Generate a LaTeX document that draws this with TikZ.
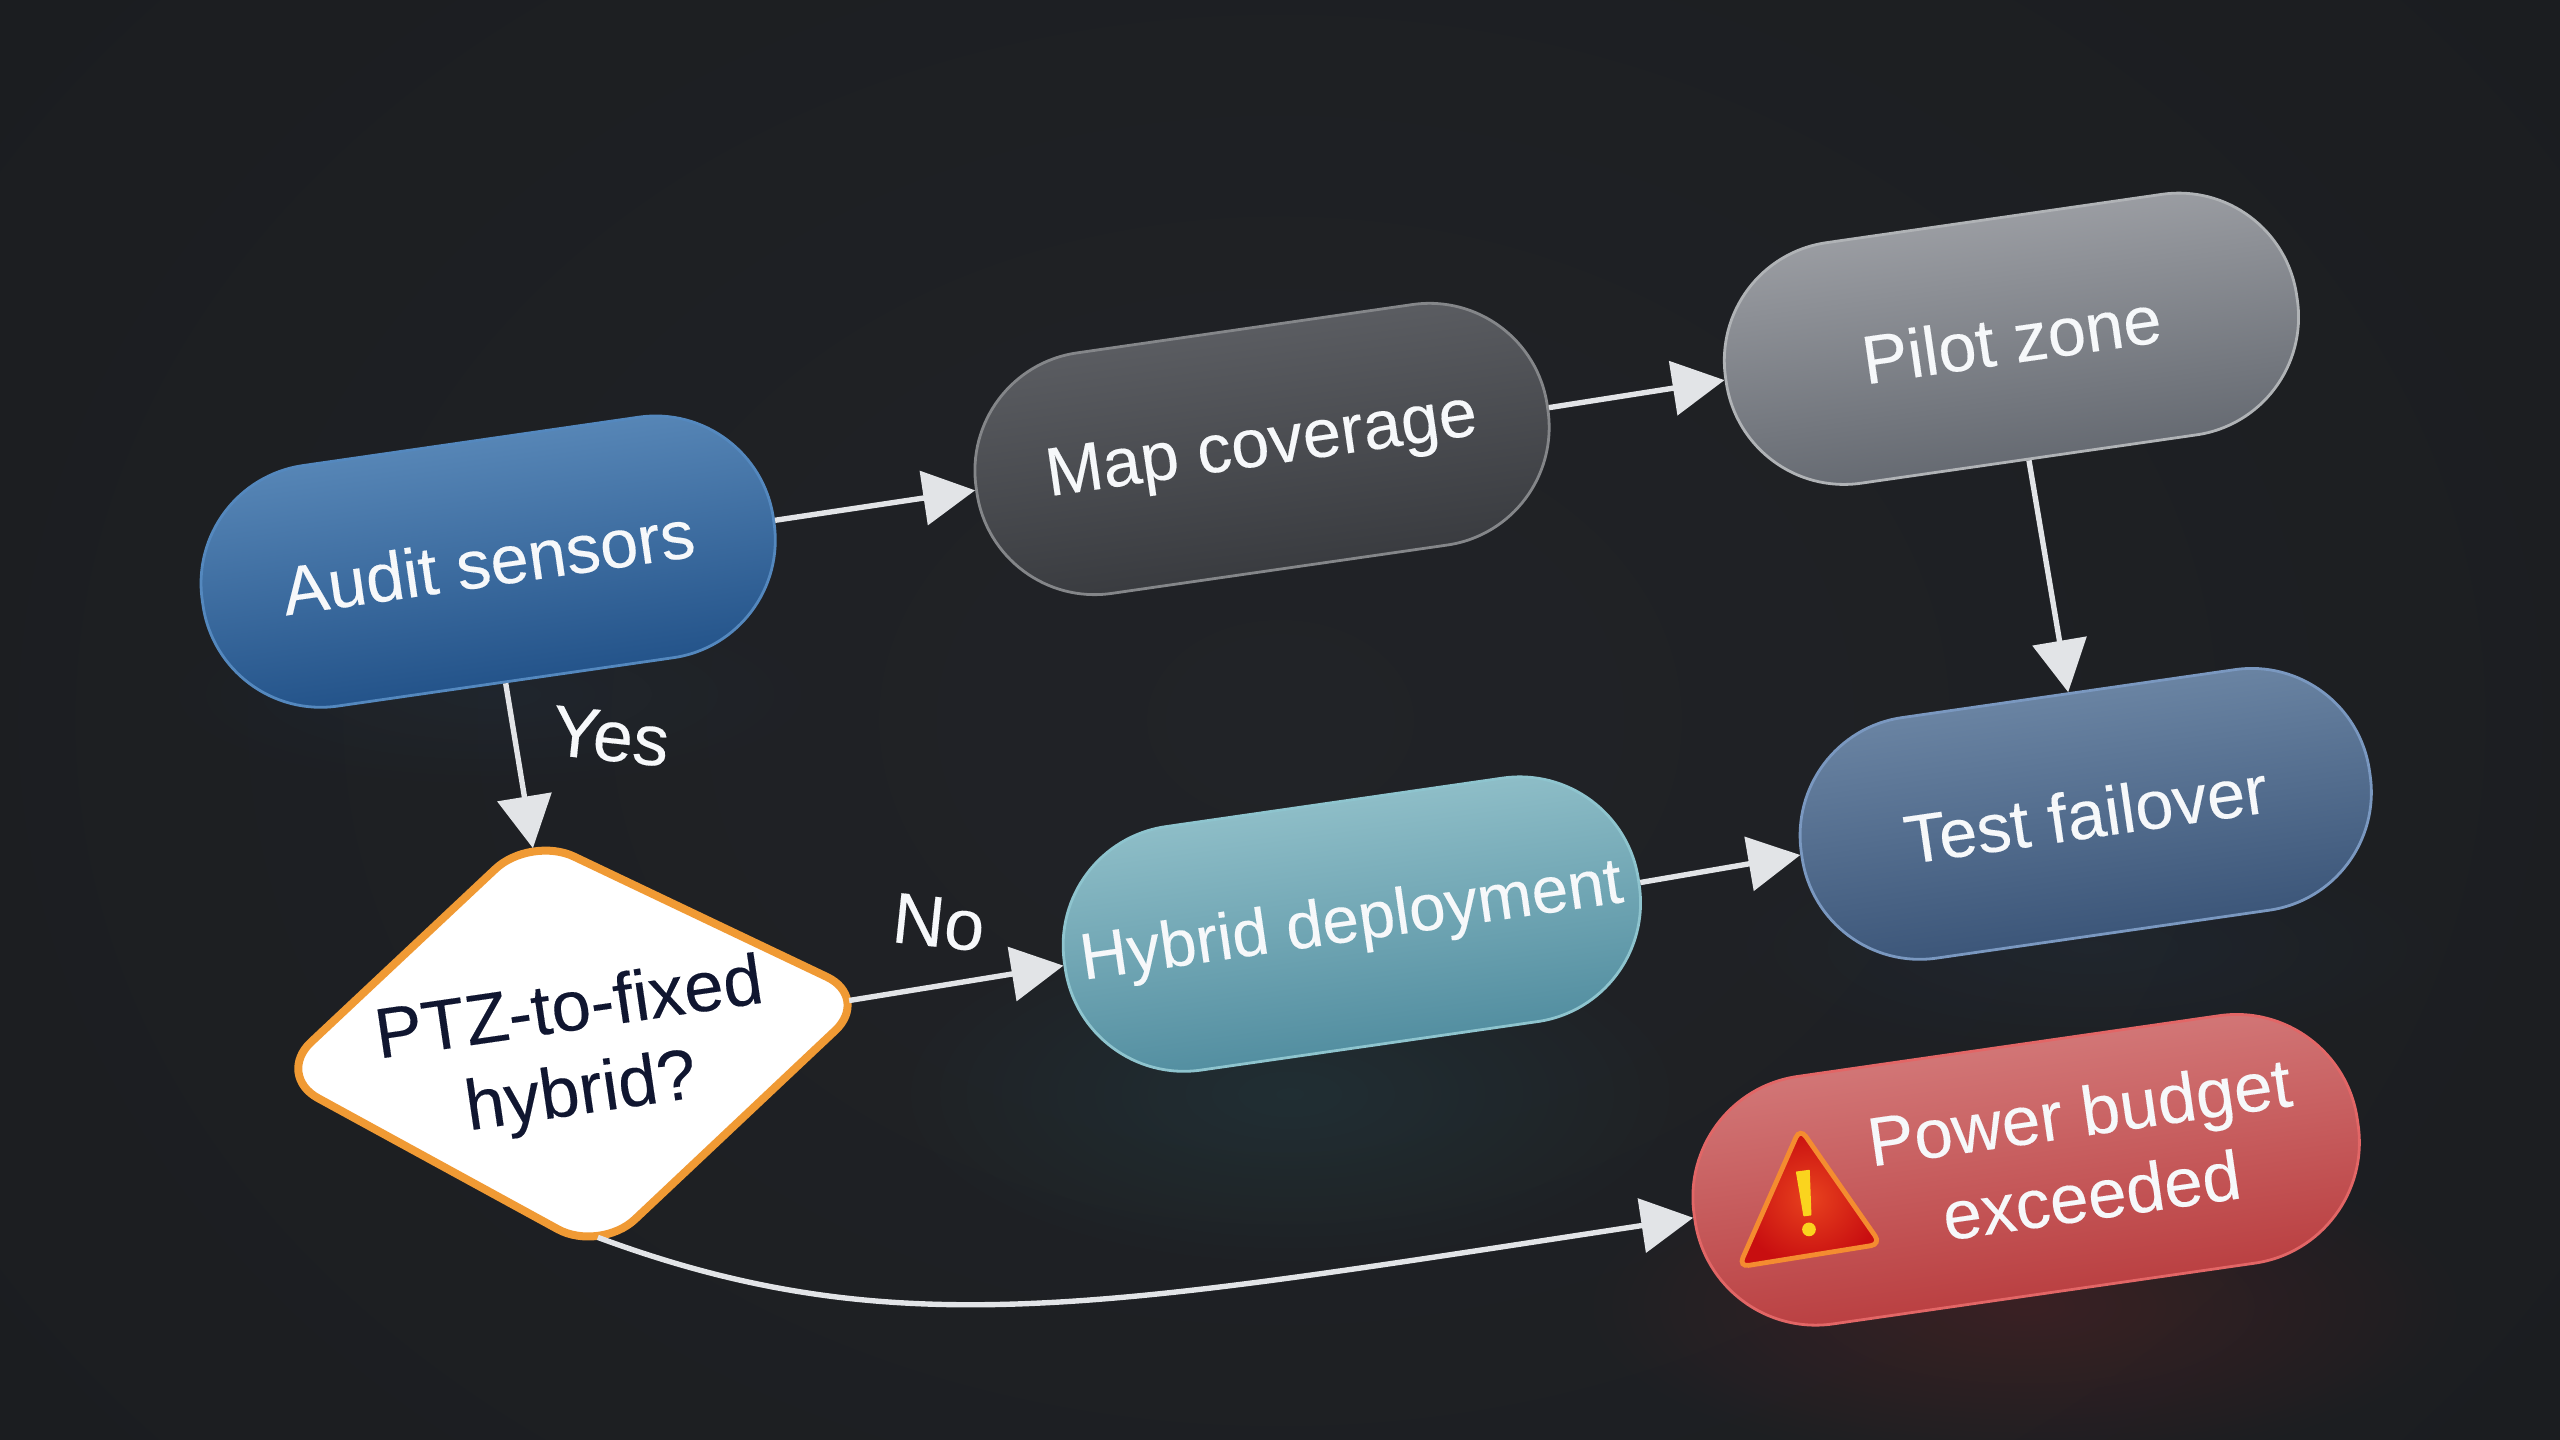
\documentclass[tikz,border=0pt]{standalone}
\usepackage{fontspec}
\setmainfont{Liberation Sans}[FakeBold=0.2]
\usetikzlibrary{arrows.meta,fadings,calc}
\definecolor{bgA}{RGB}{33,35,39}
\definecolor{bgB}{RGB}{27,29,32}
\definecolor{arrowc}{RGB}{226,228,231}
\definecolor{txt}{RGB}{246,248,250}
\definecolor{ink}{RGB}{16,22,48}
\definecolor{auT}{RGB}{98,145,192}\definecolor{auM}{RGB}{48,105,160}\definecolor{auB}{RGB}{24,72,128}\definecolor{auD}{RGB}{84,136,190}
\definecolor{maT}{RGB}{98,100,105}\definecolor{maM}{RGB}{68,70,75}\definecolor{maB}{RGB}{50,52,56}\definecolor{maD}{RGB}{132,134,137}
\definecolor{piT}{RGB}{166,168,173}\definecolor{piM}{RGB}{122,125,131}\definecolor{piB}{RGB}{90,95,103}\definecolor{piD}{RGB}{176,179,182}
\definecolor{teT}{RGB}{116,142,172}\definecolor{teM}{RGB}{78,104,138}\definecolor{teB}{RGB}{50,76,112}\definecolor{teD}{RGB}{122,152,192}
\definecolor{hyT}{RGB}{155,200,208}\definecolor{hyM}{RGB}{104,163,177}\definecolor{hyB}{RGB}{70,132,152}\definecolor{hyD}{RGB}{142,196,206}
\definecolor{poT}{RGB}{216,132,132}\definecolor{poM}{RGB}{196,88,88}\definecolor{poB}{RGB}{180,50,52}\definecolor{poD}{RGB}{226,102,102}
\definecolor{orangeD}{RGB}{240,154,52}
\definecolor{warnD}{RGB}{244,140,48}
\definecolor{warnI}{RGB}{232,66,30}
\definecolor{warnO}{RGB}{200,14,16}
\definecolor{warnY}{RGB}{250,212,30}
\definecolor{glowR}{RGB}{170,40,40}
\definecolor{glowT}{RGB}{40,110,120}
\definecolor{glowB}{RGB}{50,90,130}
\tikzfading[name=glowfade, inner color=transparent!45, outer color=transparent!100]
\tikzset{
  x=0.81633pt, y=-0.81633pt,
  pill/.style={rectangle, minimum width=288.5pt, minimum height=121.5pt, inner sep=0pt,
    rounded corners=59.5pt, rotate=8.2, line width=1.4pt, text=txt, font=\fontsize{34.3pt}{42pt}\selectfont},
  audit/.style={pill, draw=auD, top color=auT, middle color=auM, bottom color=auB, shading angle=8},
  mapc/.style={pill, draw=maD, top color=maT, middle color=maM, bottom color=maB, shading angle=8},
  pilot/.style={pill, draw=piD, top color=piT, middle color=piM, bottom color=piB, shading angle=8},
  testf/.style={pill, minimum width=287pt, draw=teD, top color=teT, middle color=teM, bottom color=teB, shading angle=8},
  hybrid/.style={pill, minimum width=290pt, minimum height=123pt, rounded corners=60pt, draw=hyD, top color=hyT, middle color=hyM, bottom color=hyB, shading angle=8},
  power/.style={pill, minimum width=335pt, minimum height=125pt, rounded corners=61pt,
     draw=poD, top color=poT, middle color=poM, bottom color=poB, shading angle=8},
  decisionbox/.style={rounded corners=24pt, draw=orangeD, line width=4pt, fill=white, line join=round},
  decisiontext/.style={inner sep=0pt, rotate=8.3, align=center, text=ink, font=\fontsize{35.5pt}{42pt}\selectfont},
  conn/.style={draw=arrowc, line width=2.7pt, -{Triangle[length=26pt,width=27pt]}, fill=none},
  elabel/.style={text=txt, inner sep=0pt},
  glow/.style={path fading=glowfade, draw=none}
}
\begin{document}
\begin{tikzpicture}
\useasboundingbox (0,0) rectangle (1568,882);
\shade[inner color=bgA, outer color=bgB, shading=radial] (-200,-300) rectangle (1768,1182);
% glows
\fill[glow, fill=glowR, opacity=.38] (1240,800) ellipse (270 and 100);
\fill[glow, fill=glowT, opacity=.32] (790,670) ellipse (250 and 110);
\fill[glow, fill=glowB, opacity=.2] (1280,580) ellipse (230 and 70);
\fill[glow, fill=glowB, opacity=.18] (300,425) ellipse (210 and 60);
% nodes
\node[audit] (a) at (299,344) {Audit sensors};
\node[mapc] (m) at (773,275) {Map coverage};
\node[pilot] (p) at (1232,207.5) {Pilot zone};
\node[testf] (t) at (1277.5,498.5) {Test failover};
\node[hybrid, font=\fontsize{32.8pt}{42pt}\selectfont] (h) at (828,566) {Hybrid deployment};
\node[power, font=\fontsize{34.6pt}{42pt}\selectfont] (w) at (1241,716.5) {\hspace*{61pt}\raisebox{-6pt}{\begin{tabular}{@{}c@{}}Power budget\\exceeded\end{tabular}}};
% decision diamond
\coordinate (dC) at (348.5,637);
\coordinate (dNs) at (325,512);
\coordinate (dEs) at (533,611);
\coordinate (dSs) at (367.5,767);
\coordinate (dWs) at (169,658.5);
\draw[decisionbox] ($(dNs)!.5!(dEs)$) -- (dEs) -- (dSs) -- (dWs) -- (dNs) -- cycle;
\node[decisiontext] (d) at (352.5,645.5) {PTZ-to-fixed\\hybrid?};
\coordinate (dN) at ($(dC)!.94!(dNs)$);
\coordinate (dE) at ($(dC)!.93!(dEs)$);
\coordinate (dS) at ($(dC)!.93!(dSs)$);
% warning icon
\draw[rounded corners=5pt, line width=2.4pt, draw=warnD, inner color=warnI, outer color=warnO]
  (1102.5,691) -- (1152,762) -- (1065,776) -- cycle;
\fill[fill=warnY, line join=round, draw=warnY, line width=.8pt]
  (1100.5,718) -- (1108,717) -- (1109,744) -- (1105,744.5) -- cycle;
\fill[fill=warnY] (1108,753) circle (4.2);
% connectors
\draw[conn] (a.east) -- (m.west);
\draw[conn] (m.east) -- (p.west);
\draw[conn] (p.south) -- (t.north);
\draw[conn] (a.south) -- (dN);
\draw[conn] (dE) -- (h.west);
\draw[conn] (h.east) -- (t.west);
\draw[conn] (dS) .. controls (550,826) and (680,800) .. (w.west);
% labels
\node[elabel, font=\fontsize{36pt}{40pt}\selectfont, rotate=-6] (yes) at (374,451) {Yes};
\node[elabel, font=\fontsize{36pt}{40pt}\selectfont, rotate=-6] (no) at (575,565) {No};
\end{tikzpicture}
\end{document}
